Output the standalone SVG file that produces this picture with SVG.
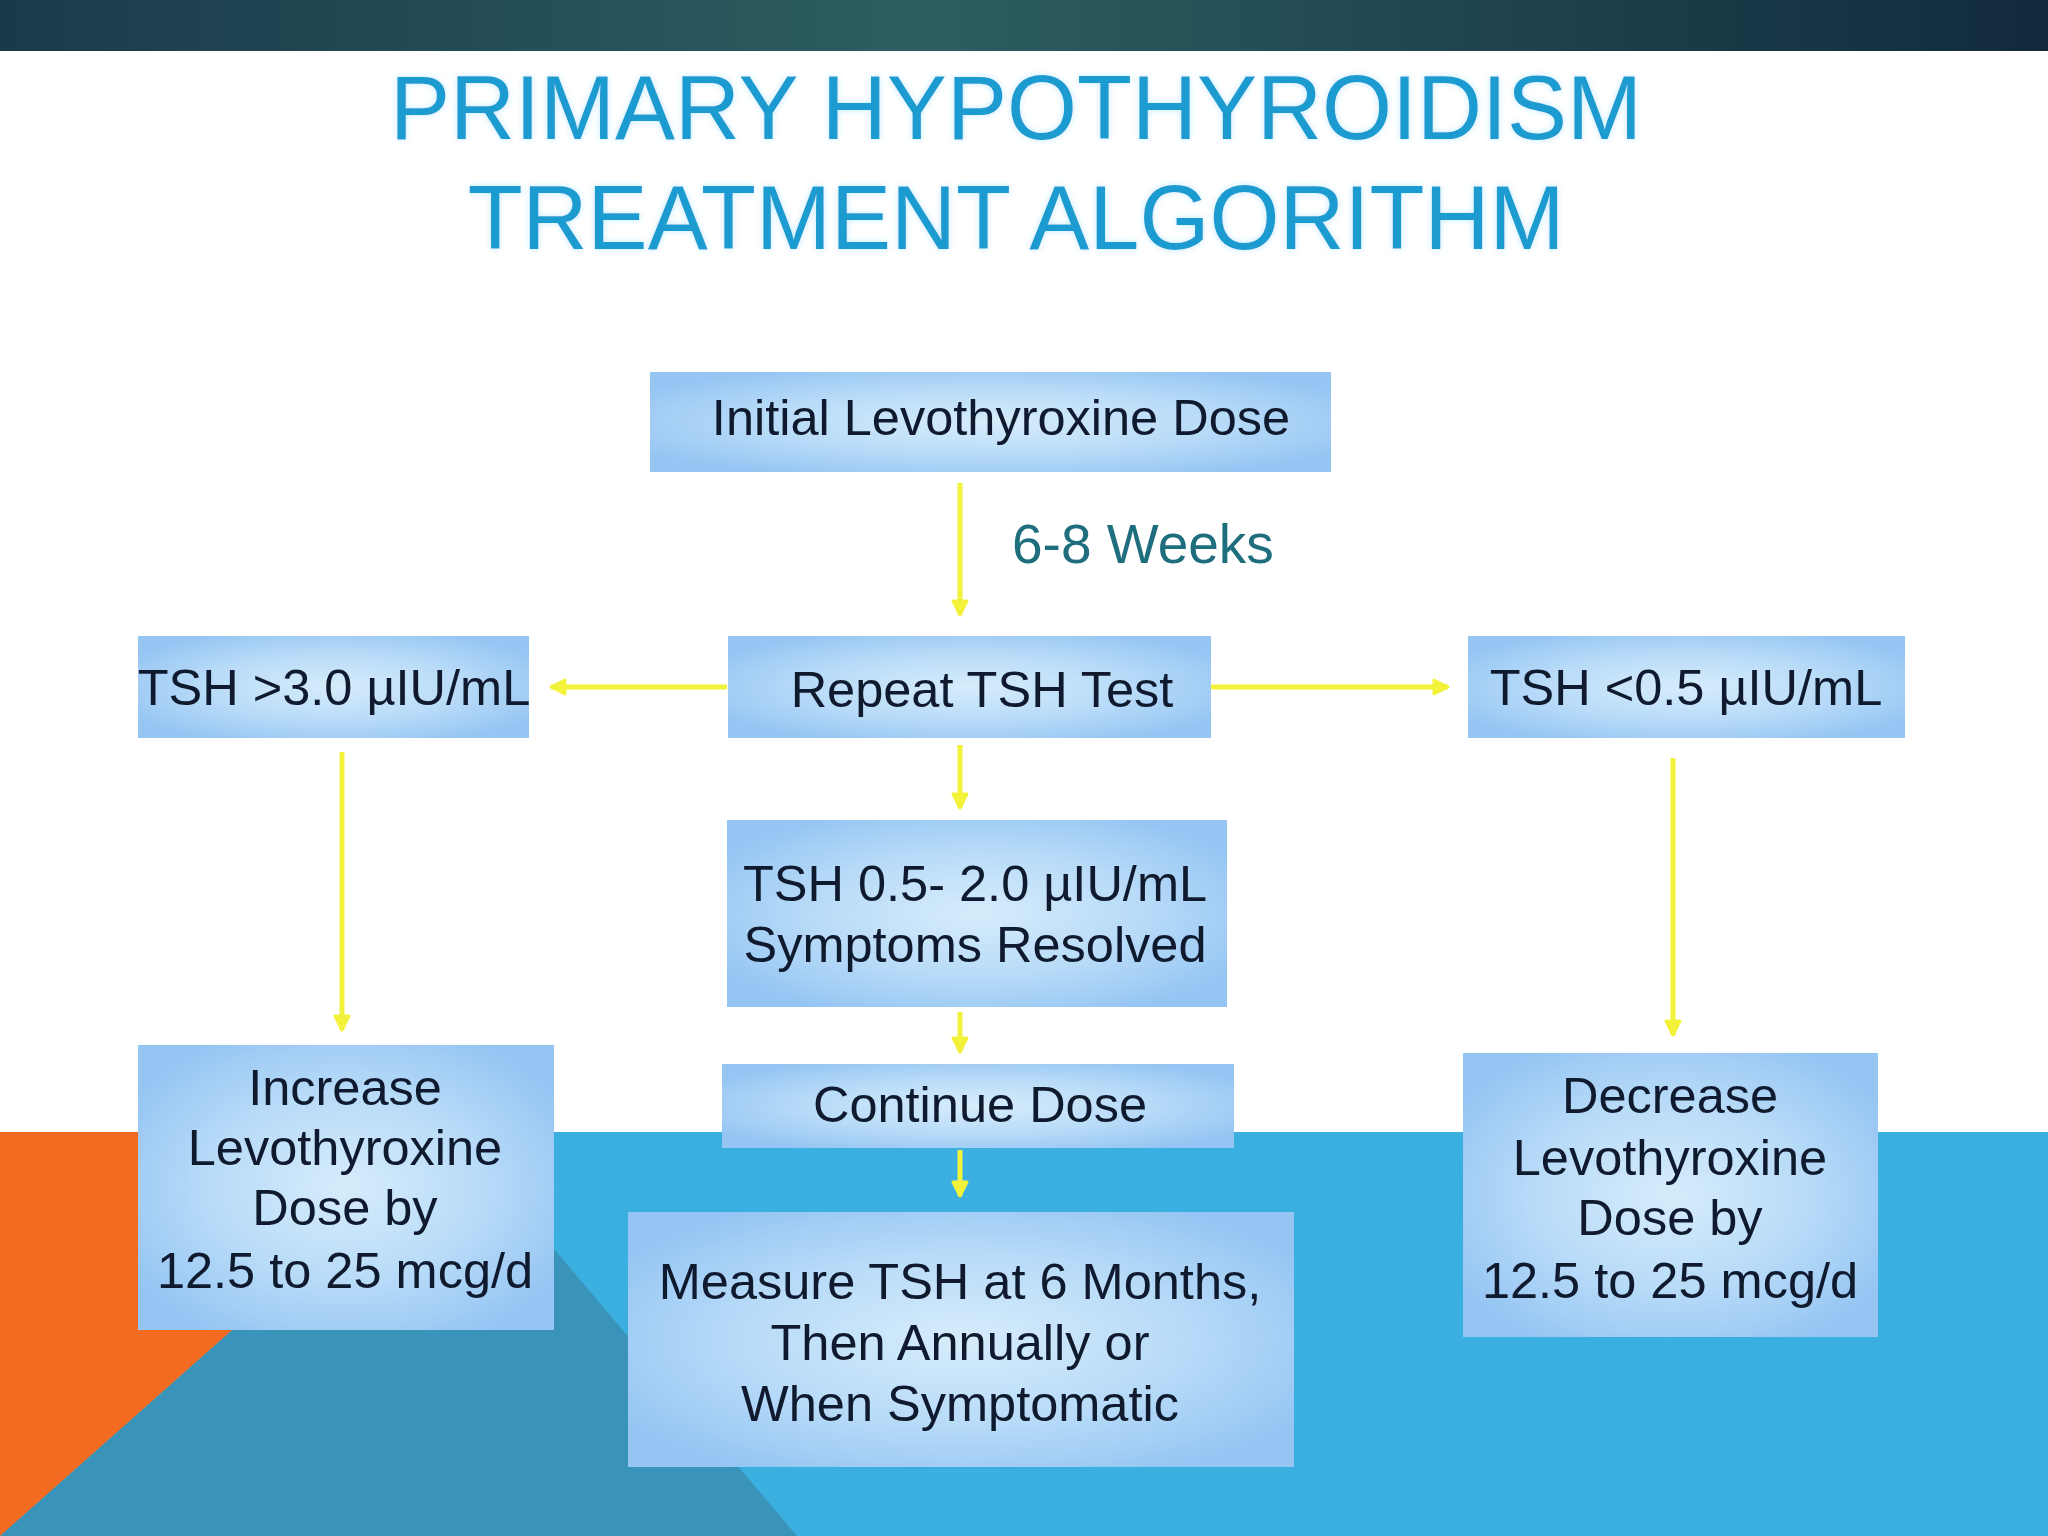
<svg xmlns="http://www.w3.org/2000/svg" width="2048" height="1536" viewBox="0 0 2048 1536">
  <defs>
    <linearGradient id="bar" x1="0" y1="0" x2="1" y2="0">
      <stop offset="0" stop-color="#1a3a4b"/>
      <stop offset="0.45" stop-color="#2d5e60"/>
      <stop offset="1" stop-color="#112a3d"/>
    </linearGradient>
    <radialGradient id="boxfill" cx="0.5" cy="0.5" r="0.6">
      <stop offset="0" stop-color="#d6ecfb"/>
      <stop offset="0.55" stop-color="#b8dbf8"/>
      <stop offset="1" stop-color="#95c5f3"/>
    </radialGradient>
    <filter id="glow" x="-5%" y="-20%" width="110%" height="140%">
      <feGaussianBlur in="SourceAlpha" stdDeviation="3" result="b"/>
      <feFlood flood-color="#bfeaff" result="c"/>
      <feComposite in="c" in2="b" operator="in" result="g"/>
      <feMerge><feMergeNode in="g"/><feMergeNode in="SourceGraphic"/></feMerge>
    </filter>
    <marker id="ah" markerUnits="userSpaceOnUse" markerWidth="22" markerHeight="22" viewBox="0 0 22 22" refX="18" refY="11" orient="auto">
      <path d="M4,4 L18,11 L4,18 Z" fill="#f2f23a" stroke="#f2f23a" stroke-width="3" stroke-linejoin="round"/>
    </marker>
  </defs>
  <style>
    .box { fill: url(#boxfill); }
    .t { font-family: "Liberation Sans", Arial, sans-serif; font-size: 50.5px; fill: #0f1a2e; text-anchor: middle; }
    .title { font-family: "Liberation Sans", Arial, sans-serif; font-size: 90px; fill: #1b9bd1; text-anchor: middle; }
    .lbl { font-family: "Liberation Sans", Arial, sans-serif; font-size: 55px; fill: #1e6e7e; }
    .conn { stroke: #f2f23a; stroke-width: 5; fill: none; marker-end: url(#ah); }
  </style>

  <!-- background -->
  <rect x="0" y="0" width="2048" height="1536" fill="#ffffff"/>
  <rect x="0" y="0" width="2048" height="51" fill="url(#bar)"/>
  <rect x="0" y="1132" width="2048" height="404" fill="#3bb0e0"/>
  <polygon points="455,1132 797,1536 0,1536" fill="#3a93b8"/>
  <polygon points="0,1132 455,1132 0,1536" fill="#f36b21"/>

  <!-- title -->
  <g id="title" filter="url(#glow)">
    <text class="title" x="1016" y="139">PRIMARY HYPOTHYROIDISM</text>
    <text class="title" x="1016" y="249">TREATMENT ALGORITHM</text>
  </g>

  <!-- connectors -->
  <g id="connectors">
    <path class="conn" d="M960,483 L960,615"/>
    <path class="conn" d="M727,687 L551,687"/>
    <path class="conn" d="M1211,687 L1448,687"/>
    <path class="conn" d="M960,745 L960,808"/>
    <path class="conn" d="M960,1012 L960,1052"/>
    <path class="conn" d="M960,1150 L960,1196"/>
    <path class="conn" d="M342,752 L342,1030"/>
    <path class="conn" d="M1673,758 L1673,1035"/>
    <text class="lbl" x="1012" y="563">6-8 Weeks</text>
  </g>

  <!-- nodes -->
  <g id="node-initial">
    <rect class="box" x="650" y="372" width="681" height="100"/>
    <text class="t" x="1001" y="435">Initial Levothyroxine Dose</text>
  </g>
  <g id="node-repeat">
    <rect class="box" x="728" y="636" width="483" height="102"/>
    <text class="t" x="982" y="707">Repeat TSH Test</text>
  </g>
  <g id="node-high">
    <rect class="box" x="138" y="636" width="391" height="102"/>
    <text class="t" x="334" y="705">TSH &gt;3.0 µIU/mL</text>
  </g>
  <g id="node-low">
    <rect class="box" x="1468" y="636" width="437" height="102"/>
    <text class="t" x="1686" y="705">TSH &lt;0.5 µIU/mL</text>
  </g>
  <g id="node-normal">
    <rect class="box" x="727" y="820" width="500" height="187"/>
    <text class="t" x="975" y="901">TSH 0.5- 2.0 µIU/mL</text>
    <text class="t" x="975" y="962">Symptoms Resolved</text>
  </g>
  <g id="node-continue">
    <rect class="box" x="722" y="1064" width="512" height="84"/>
    <text class="t" x="980" y="1122">Continue Dose</text>
  </g>
  <g id="node-measure">
    <rect class="box" x="628" y="1212" width="666" height="255"/>
    <text class="t" x="960" y="1299">Measure TSH at 6 Months,</text>
    <text class="t" x="960" y="1360">Then Annually or</text>
    <text class="t" x="960" y="1421">When Symptomatic</text>
  </g>
  <g id="node-increase">
    <rect class="box" x="138" y="1045" width="416" height="285"/>
    <text class="t" x="345" y="1105">Increase</text>
    <text class="t" x="345" y="1165">Levothyroxine</text>
    <text class="t" x="345" y="1225">Dose by</text>
    <text class="t" x="345" y="1288">12.5 to 25 mcg/d</text>
  </g>
  <g id="node-decrease">
    <rect class="box" x="1463" y="1053" width="415" height="284"/>
    <text class="t" x="1670" y="1113">Decrease</text>
    <text class="t" x="1670" y="1175">Levothyroxine</text>
    <text class="t" x="1670" y="1235">Dose by</text>
    <text class="t" x="1670" y="1298">12.5 to 25 mcg/d</text>
  </g>
</svg>
